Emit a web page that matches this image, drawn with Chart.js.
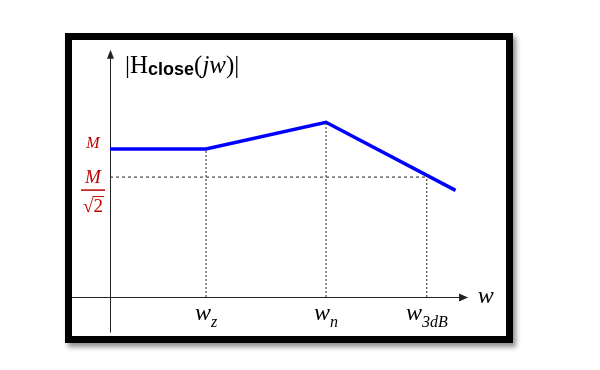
<!DOCTYPE html>
<html lang="en">
<head>
<meta charset="UTF-8">
<title>|H_close(jw)| sketch</title>
<style>
  body { margin: 0; background: #fff; }
  .wrap { position: relative; width: 600px; height: 370px; }
  .frame {
    position: absolute; left: 65px; top: 33px; width: 448px; height: 310px;
    box-sizing: border-box; border: 7px solid #000; background: #fff;
    box-shadow: 3px 4px 5px rgba(0, 0, 0, 0.45);
  }
  canvas { position: absolute; left: 0; top: 0; }
</style>
</head>
<body>
<div class="wrap">
  <div class="frame"></div>
  <canvas id="bode" width="600" height="370"></canvas>
</div>
<script src="https://cdn.jsdelivr.net/npm/chart.js"></script>
<script>
// magnitude curve (x in units of w_z, y in units of M)
const freqPoints = [0, 1, 2.25, 3.6];
const magPoints = [1, 1, 1.18, 0.72];

// marked frequencies and where their guide lines stop
const xTickValues = [1, 2.25, 3.3];
const xTickLabels = [['w', 'z'], ['w', 'n'], ['w', '3dB']];
const guideTops = [1, 1.18, 0.81];

// marked levels
const yTickValues = [1, 0.81];
const yTickLabels = ['M', 'M/√2'];

const xAxisTitle = 'w';
const yAxisTitle = ['|H', 'close', '(', 'jw', ')|'];

const red = '#c00000';
const serif = '"Liberation Serif", "DejaVu Serif", serif';

function pts(xs, ys) {
    return xs.map((x, i) => ({ x: x, y: ys[i] }));
}

const datasets = [];
// dashed guides
xTickValues.forEach((v, i) => {
    datasets.push({
        data: pts([v, v], [0, guideTops[i]]),
        borderColor: '#222', borderWidth: 1, borderDash: [2, 2]
    });
});
datasets.push({
    data: pts([0, xTickValues[2]], [yTickValues[1], yTickValues[1]]),
    borderColor: '#222', borderWidth: 1, borderDash: [3, 3]
});
// the blue response
datasets.push({
    data: pts(freqPoints, magPoints),
    borderColor: '#0000ff', borderWidth: 3.5
});

// axes with arrow heads
const axesPlugin = {
    id: 'axes',
    beforeDatasetsDraw(chart) {
        const ctx = chart.ctx, xs = chart.scales.x, ys = chart.scales.y;
        const x0 = xs.getPixelForValue(0), y0 = ys.getPixelForValue(0);
        const yTop = ys.getPixelForValue(1.67), yBot = ys.getPixelForValue(-0.24);
        const xEnd = xs.getPixelForValue(3.73);
        ctx.save();
        ctx.strokeStyle = '#222';
        ctx.fillStyle = '#222';
        ctx.lineWidth = 1;
        ctx.beginPath();
        ctx.moveTo(x0 + 0.5, yTop + 6);
        ctx.lineTo(x0 + 0.5, yBot);
        ctx.moveTo(chart.chartArea.left, y0 + 0.5);
        ctx.lineTo(xEnd - 6, y0 + 0.5);
        ctx.stroke();
        ctx.beginPath();
        ctx.moveTo(x0 + 0.5, yTop);
        ctx.lineTo(x0 - 3, yTop + 9);
        ctx.lineTo(x0 + 4, yTop + 9);
        ctx.closePath();
        ctx.fill();
        ctx.beginPath();
        ctx.moveTo(xEnd, y0 + 0.5);
        ctx.lineTo(xEnd - 9, y0 - 3.5);
        ctx.lineTo(xEnd - 9, y0 + 4.5);
        ctx.closePath();
        ctx.fill();
        ctx.restore();
    }
};

// draw text runs one after another, returns total width
function runs(ctx, x, y, parts, measureOnly) {
    let w = 0;
    parts.forEach(p => {
        ctx.font = p.font;
        if (!measureOnly) ctx.fillText(p.text, x + w, y + (p.dy || 0));
        w += ctx.measureText(p.text).width;
    });
    return w;
}

const labelPlugin = {
    id: 'labels',
    afterDatasetsDraw(chart) {
        const ctx = chart.ctx, xs = chart.scales.x, ys = chart.scales.y;
        const x0 = xs.getPixelForValue(0), y0 = ys.getPixelForValue(0);
        ctx.save();
        ctx.textBaseline = 'alphabetic';
        ctx.textAlign = 'left';
        ctx.fillStyle = '#000';

        // y axis title
        runs(ctx, x0 + 15, ys.getPixelForValue(1.51), [
            { text: yAxisTitle[0], font: '25px ' + serif },
            { text: yAxisTitle[1], font: 'bold 18px "Liberation Sans", Arial, sans-serif', dy: 2 },
            { text: yAxisTitle[2], font: '25px ' + serif },
            { text: yAxisTitle[3], font: 'italic 25px ' + serif },
            { text: yAxisTitle[4], font: '25px ' + serif }
        ]);

        // x axis title
        ctx.font = 'italic 24px ' + serif;
        ctx.fillText(xAxisTitle, xs.getPixelForValue(3.83), y0 + 6);

        // x tick labels
        xTickValues.forEach((v, i) => {
            const parts = [
                { text: xTickLabels[i][0], font: 'italic 24px ' + serif },
                { text: xTickLabels[i][1], font: 'italic 16px ' + serif, dy: 7 }
            ];
            const w = runs(ctx, 0, 0, parts, true);
            runs(ctx, xs.getPixelForValue(v) - w / 2, y0 + 23, parts);
        });

        // y tick labels (red)
        ctx.fillStyle = red;
        ctx.strokeStyle = red;
        ctx.textAlign = 'center';
        const cx = x0 - 17;
        const yM = ys.getPixelForValue(yTickValues[0]);
        ctx.font = 'italic 16px ' + serif;
        ctx.fillText(yTickLabels[0], cx, yM - 1);

        const yF = ys.getPixelForValue(yTickValues[1]);
        const [num, den] = yTickLabels[1].split('/');
        ctx.font = 'italic 19px ' + serif;
        ctx.fillText(num, cx, yF + 6);
        ctx.lineWidth = 1.5;
        ctx.beginPath();
        ctx.moveTo(cx - 12, yF + 13);
        ctx.lineTo(cx + 12, yF + 13);
        ctx.stroke();
        ctx.font = '19px ' + serif;
        ctx.fillText(den, cx, yF + 35);
        const dw = ctx.measureText(den).width;
        const rw = ctx.measureText(den.slice(0, 1)).width;
        ctx.lineWidth = 1;
        ctx.beginPath();
        ctx.moveTo(cx - dw / 2 + rw - 1, yF + 19.5);
        ctx.lineTo(cx + dw / 2 + 1, yF + 19.5);
        ctx.stroke();
        ctx.restore();
    }
};

new Chart(document.getElementById('bode').getContext('2d'), {
    type: 'scatter',
    data: { datasets: datasets },
    options: {
        responsive: false,
        animation: false,
        showLine: true,
        elements: { point: { radius: 0, hoverRadius: 0 }, line: { tension: 0 } },
        layout: { padding: { left: 72, right: 95, top: 40, bottom: 34 } },
        scales: {
            x: { type: 'linear', min: -0.396, max: 4.115, display: false },
            y: { type: 'linear', min: -0.2635, max: 1.736, display: false }
        },
        plugins: { legend: { display: false }, tooltip: { enabled: false } },
        events: []
    },
    plugins: [axesPlugin, labelPlugin]
});
</script>
</body>
</html>
